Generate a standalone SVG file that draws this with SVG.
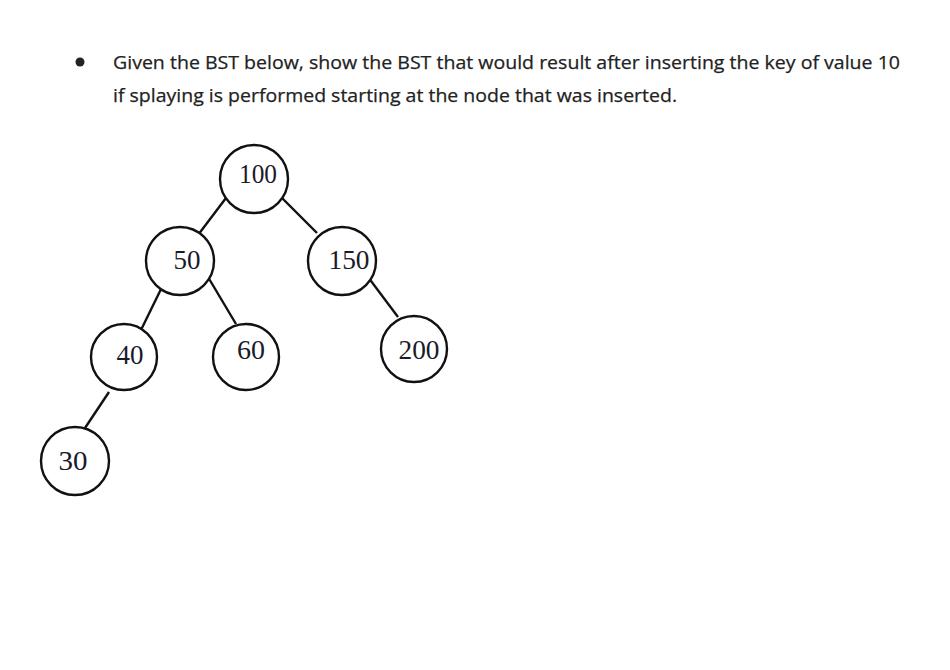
<svg xmlns="http://www.w3.org/2000/svg" width="950" height="670" viewBox="0 0 950 670">
<style>
.q{font-family:"Open Sans","Liberation Sans",sans-serif;font-size:19px;fill:#222;stroke:#222;stroke-width:0.25}
.n circle{fill:#fff;stroke:#111;stroke-width:2.4}
.n text{font-family:"Liberation Serif",serif;font-size:27px;fill:#1a1a2a;text-anchor:middle}
#edges line{stroke:#111;stroke-width:2.4}
</style>
<rect width="950" height="670" fill="#fff"/>
<g id="question">
<circle cx="80" cy="62" r="4.5" fill="#222"/>
<text class="q" x="113" y="69" textLength="787" lengthAdjust="spacingAndGlyphs">Given the BST below, show the BST that would result after inserting the key of value 10</text>
<text class="q" x="113" y="102" textLength="564" lengthAdjust="spacingAndGlyphs">if splaying is performed starting at the node that was inserted.</text>
</g>
<g id="edges">
<line x1="226" y1="198" x2="198" y2="235"/>
<line x1="282" y1="198" x2="317" y2="233"/>
<line x1="163" y1="285" x2="140" y2="332"/>
<line x1="208" y1="277" x2="236" y2="324"/>
<line x1="368" y1="277" x2="398" y2="317"/>
<line x1="109" y1="392" x2="85" y2="428"/>
</g>
<g id="n100" class="n"><circle cx="254" cy="179" r="34"/><text x="258" y="183" textLength="38" lengthAdjust="spacingAndGlyphs">100</text></g>
<g id="n50" class="n"><circle cx="180" cy="261" r="34"/><text x="187" y="269" textLength="27" lengthAdjust="spacingAndGlyphs">50</text></g>
<g id="n150" class="n"><circle cx="342" cy="261" r="34"/><text x="349" y="269" textLength="41" lengthAdjust="spacingAndGlyphs">150</text></g>
<g id="n40" class="n"><circle cx="124" cy="357" r="33"/><text x="130" y="364" textLength="27" lengthAdjust="spacingAndGlyphs">40</text></g>
<g id="n60" class="n"><circle cx="246" cy="357" r="33"/><text x="251" y="359" textLength="28" lengthAdjust="spacingAndGlyphs">60</text></g>
<g id="n200" class="n"><circle cx="414" cy="349" r="33"/><text x="419" y="359" textLength="41" lengthAdjust="spacingAndGlyphs">200</text></g>
<g id="n30" class="n"><circle cx="75" cy="461" r="34"/><text x="73" y="470" textLength="29" lengthAdjust="spacingAndGlyphs">30</text></g>
</svg>
